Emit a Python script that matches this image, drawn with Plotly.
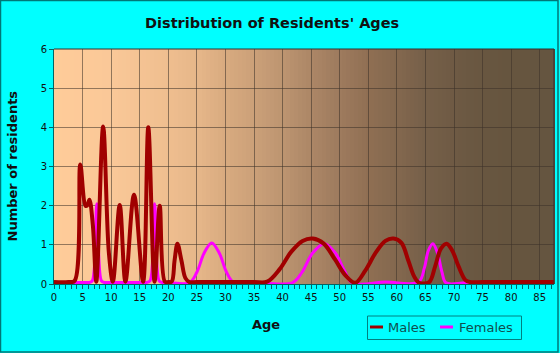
import plotly.graph_objects as go

# ---- data ----
male_age = [0, 2.5, 3.6, 4.6, 5.5, 5.8, 6.2, 6.8, 7.4, 8.6, 9.6, 10.3, 11.5, 12.5, 14.0, 15.6,
            16.5, 17.6, 18.5, 19.4, 20.0, 20.6, 21.1, 21.6, 22.3, 23.0, 23.7, 25, 30, 35,
            37.3, 39.5, 41.5, 43.5, 45.3, 47.2, 49.2, 51.0, 52.7,
            54.5, 56.3, 58.0, 59.4, 60.8, 62.0, 63.0, 63.8,
            65.6, 66.7, 67.7, 68.7, 69.7, 70.8, 72.0, 72.8, 75, 80, 87.5]
male_cnt = [0.05, 0.05, 0.08, 3.05, 2.0, 2.0, 2.15, 1.5, 0.06, 4.02, 0.8, 0.06, 2.02, 0.06,
            2.28, 0.06, 4.0, 0.06, 2.0, 0.06, 0.05, 0.06, 0.6, 1.03, 0.6, 0.15, 0.05, 0.05,
            0.05, 0.05,
            0.06, 0.38, 0.82, 1.1, 1.16, 1.03, 0.62, 0.22, 0.03,
            0.35, 0.8, 1.1, 1.16, 1.05, 0.6, 0.2, 0.04,
            0.04, 0.45, 0.9, 1.03, 0.85, 0.45, 0.1, 0.05, 0.05, 0.05, 0.05]
female_age = [0, 5, 6.2, 6.7, 7.5, 8.3, 8.8, 10, 15, 16.2, 16.8, 17.6, 18.4, 18.9, 20,
              23.7, 25.0, 26.3, 27.6, 28.9, 30.2, 31.5, 36,
              41.7, 43.4, 45.2, 47.3, 49.2, 50.8, 52.2, 58,
              63.8, 64.8, 65.5, 66.3, 67.1, 67.9, 68.6, 72, 77]
female_cnt = [0.04, 0.04, 0.04, 0.08, 2.05, 0.08, 0.04, 0.04, 0.04, 0.04, 0.08, 2.05, 0.08,
              0.04, 0.04,
              0.03, 0.3, 0.8, 1.05, 0.8, 0.3, 0.03, 0.03,
              0.03, 0.3, 0.78, 1.03, 0.8, 0.35, 0.03, 0.05,
              0.05, 0.4, 0.85, 1.03, 0.8, 0.3, 0.03, 0.03, 0.03]
x_ticks = list(range(0, 90, 5))
y_ticks = list(range(0, 7))
series_names = ["Males", "Females"]
series_colors = ["#a00000", "#ff00ff"]

W, H = 560, 353
L, R, T, B = 54, 6, 49, 69
PW, PH = W - L - R, H - T - B
XMAX = 87.5

def px(xp):
    return (xp - L) / PW

def py(yp):
    return (H - B - yp) / PH

fig = go.Figure()
fig.add_trace(go.Scatter(x=female_age, y=female_cnt, mode="lines", name=series_names[1],
                         line=dict(color=series_colors[1], width=3, shape="spline", smoothing=1.0),
                         showlegend=False))
fig.add_trace(go.Scatter(x=male_age, y=male_cnt, mode="lines", name=series_names[0],
                         line=dict(color=series_colors[0], width=4, shape="spline", smoothing=1.0),
                         showlegend=False))

# gradient background strips
stops = [(0.0, (255, 204, 153)), (0.11, (250, 200, 152)), (0.23, (239, 190, 143)),
         (0.29, (229, 182, 137)), (0.34, (217, 171, 128)), (0.40, (203, 160, 121)),
         (0.46, (188, 148, 112)), (0.51, (173, 135, 103)), (0.57, (158, 123, 94)),
         (0.63, (143, 111, 83)), (0.69, (130, 103, 78)), (0.74, (118, 96, 73)),
         (0.80, (110, 90, 68)), (0.86, (104, 86, 64)), (0.91, (102, 85, 63)),
         (1.0, (101, 85, 64))]

def col(t):
    for (t0, c0), (t1, c1) in zip(stops[:-1], stops[1:]):
        if t0 <= t <= t1:
            f = (t - t0) / (t1 - t0) if t1 > t0 else 0
            return "rgb(%d,%d,%d)" % tuple(round(a + (b - a) * f) for a, b in zip(c0, c1))
    return "rgb(%d,%d,%d)" % stops[-1][1]

shapes = []
N = 125
for i in range(N):
    t0, t1 = i / N, (i + 1) / N
    shapes.append(dict(type="rect", xref="x domain", yref="y domain", x0=t0, x1=t1 + 0.002,
                       y0=0, y1=1, fillcolor=col((t0 + t1) / 2), line=dict(width=0),
                       layer="below"))
# top / right plot border
shapes.append(dict(type="line", xref="paper", yref="paper", x0=0, x1=1, y0=1, y1=1,
                   line=dict(color="#333333", width=1)))
shapes.append(dict(type="line", xref="paper", yref="paper", x0=1, x1=1, y0=0, y1=1,
                   line=dict(color="#333333", width=1)))
# outer border
shapes.append(dict(type="rect", xref="paper", yref="paper", x0=px(0.5), x1=px(558),
                   y0=py(352), y1=py(0.5), line=dict(color="#007777", width=1.5)))
# legend box
shapes.append(dict(type="rect", xref="paper", yref="paper", x0=px(367.5), x1=px(521.5),
                   y0=py(339.5), y1=py(316), line=dict(color="#008080", width=1)))
shapes.append(dict(type="line", xref="paper", yref="paper", x0=px(370), x1=px(383),
                   y0=py(327), y1=py(327), line=dict(color=series_colors[0], width=3)))
shapes.append(dict(type="line", xref="paper", yref="paper", x0=px(440), x1=px(453),
                   y0=py(327), y1=py(327), line=dict(color=series_colors[1], width=3)))

annotations = [
    dict(text="<b>Distribution of Residents' Ages</b>", xref="paper", yref="paper",
         x=px(272), y=py(23), showarrow=False, xanchor="center", yanchor="middle",
         font=dict(family="DejaVu Sans", size=14.5, color="#111111")),
    dict(text="<b>Number of residents</b>", xref="paper", yref="paper", x=px(12), y=py(166.5),
         showarrow=False, textangle=-90, xanchor="center", yanchor="middle",
         font=dict(family="DejaVu Sans", size=13, color="#111111")),
    dict(text="<b>Age</b>", xref="paper", yref="paper", x=px(266), y=py(324),
         showarrow=False, xanchor="center", yanchor="middle",
         font=dict(family="DejaVu Sans", size=13, color="#111111")),
    dict(text=series_names[0], xref="paper", yref="paper", x=px(386), y=py(327.5),
         showarrow=False, xanchor="left", yanchor="middle",
         font=dict(family="DejaVu Sans", size=13, color="#0f4f4f")),
    dict(text=series_names[1], xref="paper", yref="paper", x=px(457), y=py(327.5),
         showarrow=False, xanchor="left", yanchor="middle",
         font=dict(family="DejaVu Sans", size=13, color="#0f4f4f")),
]

fig.update_layout(
    width=W, height=H,
    margin=dict(l=L, r=R, t=T, b=B),
    paper_bgcolor="#00ffff", plot_bgcolor="rgba(0,0,0,0)",
    shapes=shapes, annotations=annotations, showlegend=False,
    xaxis=dict(range=[0, XMAX], tickvals=x_ticks, ticks="outside", ticklen=4,
               tickcolor="#006666", showline=True, linecolor="#006666", linewidth=1,
               showgrid=True, gridcolor="rgba(60,50,40,0.55)", gridwidth=1, zeroline=False,
               minor=dict(dtick=1, ticks="outside", ticklen=4, tickcolor="#006666", showgrid=False),
               tickfont=dict(family="DejaVu Sans", size=10, color="#111111"), fixedrange=True),
    yaxis=dict(range=[0, 6], tickvals=y_ticks, ticks="outside", ticklen=4,
               tickcolor="#006666", showline=True, linecolor="#006666", linewidth=1,
               showgrid=True, gridcolor="rgba(60,50,40,0.55)", gridwidth=1, zeroline=False,
               tickfont=dict(family="DejaVu Sans", size=10, color="#111111"), fixedrange=True),
)

fig.write_html("out.html", config={"displayModeBar": False})
